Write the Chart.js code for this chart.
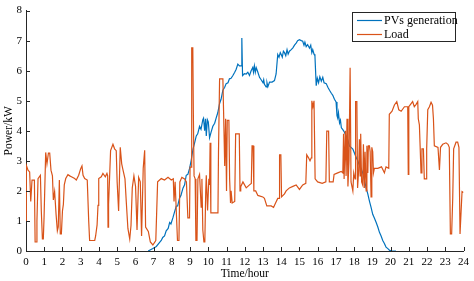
<html>
<head>
	<title>PV and Load</title>
	<script src="https://cdn.jsdelivr.net/npm/chart.js"></script>
	<style>
		body { margin: 0; background: #fff; }
		#box { width: 474px; height: 281px; position: relative; }
	</style>
</head>
<body>
	<div id="box"><canvas id="power"></canvas></div>
<script>
	// time in hours, power in kW
	const loadTime = [0.00, 0.02, 0.11, 0.20, 0.26, 0.33, 0.46, 0.50, 0.55, 0.60, 0.66, 0.79, 0.84, 0.90, 0.95, 0.99,
		1.08, 1.15, 1.23, 1.30, 1.37, 1.45, 1.50, 1.57, 1.65, 1.72, 1.77, 1.83, 1.88, 1.94, 2.00, 2.05, 2.10, 2.18,
		2.30, 2.40, 2.49, 2.67, 2.76, 2.89, 3.00, 3.07, 3.13, 3.22, 3.36, 3.44, 3.49, 3.77, 3.82, 3.90, 3.95, 3.99,
		4.13, 4.22, 4.35, 4.44, 4.48, 4.50, 4.53, 4.64, 4.77, 4.86, 4.95, 5.00, 5.08, 5.17, 5.25, 5.32, 5.43, 5.50,
		5.59, 5.69, 5.76, 5.83, 5.92, 6.01, 6.09, 6.18, 6.27, 6.34, 6.43, 6.51, 6.56, 6.71, 6.82, 6.96, 7.12, 7.22,
		7.42, 7.60, 7.79, 7.97, 8.08, 8.12, 8.18, 8.31, 8.39, 8.44, 8.55, 8.70, 8.80, 8.88, 8.97, 9.00, 9.07, 9.09,
		9.15, 9.18, 9.22, 9.28, 9.32, 9.38, 9.43, 9.52, 9.61, 9.65, 9.70, 9.76, 9.81, 9.86, 9.89, 9.96, 10.03, 10.07,
		10.10, 10.14, 10.53, 10.56, 10.62, 10.80, 10.84, 10.90, 10.95, 11.00, 11.04, 11.13, 11.17, 11.22, 11.25, 11.31,
		11.45, 11.50, 11.70, 11.74, 11.78, 11.90, 12.08, 12.26, 12.36, 12.40, 12.46, 12.50, 12.60, 12.72, 12.99, 13.08,
		13.21, 13.45, 13.58, 13.69, 13.81, 13.89, 13.91, 13.98, 14.02, 14.18, 14.27, 14.45, 14.64, 14.82, 15.00, 15.18,
		15.35, 15.40, 15.50, 15.58, 15.65, 15.68, 15.74, 15.80, 15.86, 16.00, 16.25, 16.45, 16.50, 16.60, 16.64, 16.85,
		16.90, 17.10, 17.29, 17.38, 17.42, 17.45, 17.52, 17.56, 17.61, 17.66, 17.72, 17.78, 17.83, 17.93, 17.98, 18.05,
		18.08, 18.15, 18.19, 18.25, 18.29, 18.33, 18.36, 18.41, 18.47, 18.51, 18.56, 18.60, 18.66, 18.70, 18.75, 18.78,
		18.84, 18.88, 18.93, 18.97, 19.02, 19.06, 19.11, 19.30, 19.50, 19.66, 19.75, 19.90, 19.93, 20.08, 20.21, 20.34,
		20.45, 20.58, 20.76, 20.94, 20.97, 21.00, 21.21, 21.30, 21.40, 21.49, 21.52, 21.58, 21.62, 21.67, 21.72, 21.80,
		21.85, 21.95, 21.98, 22.04, 22.13, 22.22, 22.30, 22.35, 22.40, 22.60, 22.68, 22.74, 22.86, 23.04, 23.15, 23.22,
		23.28, 23.35, 23.41, 23.46, 23.59, 23.68, 23.75, 23.81, 23.86, 23.92, 24.00];
	const loadPower = [1.0, 2.85, 2.69, 2.63, 1.65, 2.36, 2.36, 0.3, 0.3, 1.0, 2.41, 2.52, 1.33, 0.4, 0.4, 1.11,
		3.28, 2.9, 3.26, 3.26, 2.69, 2.5, 1.7, 1.98, 1.22, 0.67, 0.8, 2.36, 0.57, 0.57, 1.33, 1.55, 2.2, 2.41,
		2.54, 2.5, 2.47, 2.41, 2.36, 2.52, 2.74, 2.83, 2.52, 2.41, 2.36, 1.0, 0.35, 0.35, 0.5, 0.87, 1.52, 2.41,
		2.47, 2.58, 2.47, 2.58, 2.5, 0.79, 1.55, 3.34, 3.55, 3.4, 3.34, 2.3, 1.33, 3.45, 2.9, 2.7, 2.4, 1.65,
		0.75, 0.4, 0.85, 2.1, 2.5, 2.15, 0.7, 2.45, 2.3, 0.5, 2.75, 3.35, 0.8, 0.65, 0.3, 0.2, 0.35, 2.3,
		2.41, 2.36, 2.45, 2.36, 2.4, 1.65, 2.3, 0.35, 0.35, 2.3, 2.45, 2.4, 2.3, 1.1, 1.1, 2.79, 2.79, 6.76,
		6.76, 4.6, 2.5, 2.4, 0.35, 0.35, 2.4, 2.55, 1.46, 2.4, 0.7, 0.3, 0.3, 2.0, 2.52, 1.35, 2.4, 2.2,
		3.6, 1.27, 1.27, 3.3, 5.73, 5.73, 4.61, 2.83, 4.4, 2.0, 4.35, 4.35, 2.4, 1.6, 2.0, 1.6,
		1.65, 3.9, 3.9, 2.0, 2.14, 2.3, 2.1, 2.2, 2.25, 3.5, 3.5, 2.0, 2.0, 1.85, 1.8, 1.75,
		1.5, 1.5, 1.45, 1.6, 1.75, 1.75, 3.2, 3.2, 1.8, 1.9, 2.0, 2.1, 2.15, 2.2, 2.05, 2.2,
		2.25, 3.2, 3.1, 3.0, 3.1, 5.0, 4.8, 5.0, 2.4, 2.3, 2.25, 2.3, 3.99, 3.99, 2.3, 2.3,
		2.55, 2.6, 2.65, 2.6, 3.9, 2.4, 4.0, 2.5, 4.4, 2.15, 3.0, 6.1, 2.3, 2.0, 2.6, 2.4,
		4.97, 4.97, 2.1, 2.7, 3.72, 2.5, 3.9, 2.3, 2.2, 3.55, 2.1, 3.3, 2.0, 3.5, 2.6, 3.5,
		3.5, 3.3, 1.8, 3.45, 3.3, 2.6, 2.75, 2.75, 2.8, 2.6, 2.8, 2.75, 4.55, 4.65, 4.86, 4.97,
		4.7, 4.65, 4.8, 4.8, 2.55, 4.8, 4.97, 4.8, 4.88, 4.97, 4.4, 4.2, 3.5, 2.6, 3.4, 3.4,
		2.4, 2.4, 3.4, 4.7, 4.8, 4.95, 4.85, 4.4, 3.5, 3.45, 2.7, 3.45, 3.55, 3.6, 3.55, 3.45,
		0.57, 0.57, 1.77, 3.4, 3.62, 3.62, 3.45, 0.57, 0.57, 1.98, 1.95];

	const pvTime = [6.70, 6.96, 7.15, 7.33, 7.42, 7.50, 7.60, 7.69, 7.80, 7.88, 7.95, 8.06, 8.15, 8.24, 8.32, 8.42,
		8.50, 8.61, 8.70, 8.79, 8.88, 8.97, 9.06, 9.16, 9.25, 9.34, 9.42, 9.52, 9.60, 9.70, 9.74, 9.80,
		9.85, 9.89, 9.95, 10.00, 10.07, 10.15, 10.25, 10.35, 10.43, 10.52, 10.62, 10.70, 10.80, 10.90, 10.98, 11.08,
		11.16, 11.25, 11.35, 11.45, 11.53, 11.62, 11.71, 11.80, 11.84, 11.88, 11.98, 12.08, 12.17, 12.26, 12.35, 12.44,
		12.48, 12.53, 12.58, 12.63, 12.72, 12.81, 12.90, 13.00, 13.04, 13.08, 13.17, 13.22, 13.27, 13.36, 13.50, 13.63,
		13.72, 13.81, 13.88, 13.95, 14.00, 14.06, 14.12, 14.18, 14.25, 14.32, 14.38, 14.45, 14.55, 14.64, 14.73, 14.82,
		14.90, 15.00, 15.10, 15.18, 15.25, 15.30, 15.37, 15.45, 15.55, 15.62, 15.68, 15.73, 15.80, 15.85, 15.92, 15.98,
		16.05, 16.12, 16.20, 16.28, 16.35, 16.47, 16.56, 16.65, 16.75, 16.83, 16.92, 17.01, 17.06, 17.10, 17.14, 17.20,
		17.25, 17.30, 17.38, 17.47, 17.56, 17.65, 17.74, 17.83, 17.93, 18.02, 18.11, 18.20, 18.29, 18.38, 18.48, 18.57,
		18.66, 18.75, 18.84, 18.93, 19.02, 19.11, 19.21, 19.30, 19.39, 19.48, 19.57, 19.66, 19.75, 19.85, 19.95, 20.10,
		20.30];
	const pvPower = [0, 0.08, 0.15, 0.29, 0.35, 0.45, 0.5, 0.67, 0.75, 0.95, 0.9, 1.11, 1.3, 1.49, 1.5, 1.76,
		1.85, 2.09, 2.2, 2.52, 2.55, 2.74, 3.01, 3.39, 3.6, 3.83, 3.9, 4.15, 4.05, 4.37, 4.42, 4.0,
		4.4, 3.83, 4.37, 4.3, 3.77, 3.95, 4.15, 4.25, 4.42, 4.6, 4.91, 5.05, 5.35, 5.45, 5.57, 5.6,
		5.73, 5.75, 5.84, 5.95, 6.05, 6.22, 6.16, 6.16, 7.09, 5.84, 5.9, 5.89, 5.95, 5.84, 6.0, 6.11,
		5.95, 6.16, 5.95, 6.1, 5.95, 5.78, 5.7, 5.6, 5.7, 5.55, 5.46, 5.6, 5.47, 5.62, 5.62, 5.67,
		5.89, 6.54, 6.45, 6.6, 6.54, 6.45, 6.65, 6.6, 6.5, 6.7, 6.55, 6.65, 6.7, 6.76, 6.85, 6.92,
		7.0, 7.03, 7.0, 6.98, 6.85, 6.95, 6.8, 6.87, 6.75, 6.85, 6.6, 6.7, 6.55, 6.5, 5.5, 5.75,
		5.6, 5.8, 5.65, 5.78, 5.6, 5.57, 5.45, 5.35, 5.25, 5.18, 5.05, 4.96, 4.5, 4.42, 4.6, 4.26,
		4.35, 4.1, 4.04, 3.95, 3.83, 3.7, 3.5, 3.45, 3.39, 3.25, 3.12, 3.0, 2.85, 2.75, 2.58, 2.35,
		2.09, 1.9, 1.66, 1.45, 1.22, 1.1, 0.95, 0.8, 0.62, 0.5, 0.35, 0.25, 0.13, 0.08, 0.02, 0,
		0];

	const seriesNames = ['PVs generation', 'Load'];
	const seriesColors = ['#0072BD', '#D95319'];
	const xTicks = [0, 24, 1];
	const yTicks = [0, 8, 1];

	const serif = 'Liberation Serif, Times New Roman, serif';
	const ink = '#262626';

	const toPoints = (xs, ys) => xs.map((x, i) => ({ x: x, y: ys[i] }));

	// MATLAB style ticks pointing into the plot
	const inwardTicks = {
		id: 'inwardTicks',
		afterDatasetsDraw(chart) {
			const ctx = chart.ctx;
			const area = chart.chartArea;
			ctx.save();
			ctx.strokeStyle = ink;
			ctx.lineWidth = 1;
			ctx.beginPath();
			chart.scales.x.ticks.forEach(t => {
				const px = Math.round(chart.scales.x.getPixelForValue(t.value)) + 0.5;
				ctx.moveTo(px, area.bottom);
				ctx.lineTo(px, area.bottom - 4);
			});
			chart.scales.y.ticks.forEach(t => {
				const py = Math.round(chart.scales.y.getPixelForValue(t.value)) + 0.5;
				ctx.moveTo(area.left, py);
				ctx.lineTo(area.left + 4, py);
			});
			ctx.stroke();
			ctx.restore();
		}
	};

	// boxed legend in the top right corner
	const boxLegend = {
		id: 'boxLegend',
		afterDraw(chart) {
			const ctx = chart.ctx;
			const x0 = 352, y0 = 12, w = 103, h = 29;
			ctx.save();
			ctx.fillStyle = '#fff';
			ctx.fillRect(x0, y0, w, h);
			ctx.strokeStyle = ink;
			ctx.lineWidth = 1;
			ctx.strokeRect(x0 + 0.5, y0 + 0.5, w, h);
			ctx.font = '12px ' + serif;
			ctx.textBaseline = 'middle';
			chart.data.datasets.forEach((ds, i) => {
				const cy = y0 + 8.5 + i * 14;
				ctx.strokeStyle = ds.borderColor;
				ctx.lineWidth = 1.2;
				ctx.beginPath();
				ctx.moveTo(x0 + 5, cy);
				ctx.lineTo(x0 + 30, cy);
				ctx.stroke();
				ctx.fillStyle = '#000';
				ctx.fillText(ds.label, x0 + 32, cy);
			});
			ctx.restore();
		}
	};

	const powerChart = new Chart(document.getElementById('power'), {
		type: 'line',
		data: {
			datasets: [{
				label: seriesNames[0],
				data: toPoints(pvTime, pvPower),
				borderColor: seriesColors[0],
				borderWidth: 1.2,
				pointRadius: 0,
				tension: 0,
				order: 1
			}, {
				label: seriesNames[1],
				data: toPoints(loadTime, loadPower),
				borderColor: seriesColors[1],
				borderWidth: 1.2,
				pointRadius: 0,
				tension: 0,
				order: 0
			}]
		},
		options: {
			responsive: true,
			maintainAspectRatio: false,
			animation: false,
			devicePixelRatio: 1,
			layout: { padding: { top: 5, right: 10, left: 0, bottom: 0 } },
			plugins: {
				legend: { display: false },
				tooltip: { enabled: false }
			},
			scales: {
				x: {
					type: 'linear',
					min: xTicks[0],
					max: xTicks[1],
					afterFit: s => { s.height = 30; },
					ticks: { stepSize: xTicks[2], padding: 5, maxRotation: 0, autoSkip: false, color: '#000', font: { family: serif, size: 11 } },
					grid: { display: false, drawTicks: false },
					border: { color: ink, width: 1 },
					title: { display: true, text: 'Time/hour', color: '#000', padding: 0, font: { family: serif, size: 11.5 } }
				},
				y: {
					min: yTicks[0],
					max: yTicks[1],
					afterFit: s => { s.width = 26; },
					ticks: { stepSize: yTicks[2], padding: 4, color: '#000', font: { family: serif, size: 11 } },
					grid: { display: false, drawTicks: false },
					border: { color: ink, width: 1 },
					title: { display: true, text: 'Power/kW', color: '#000', padding: { top: 2, bottom: 0 }, font: { family: serif, size: 11.5 } }
				}
			}
		},
		plugins: [inwardTicks, boxLegend]
	});
</script>
</body>
</html>
